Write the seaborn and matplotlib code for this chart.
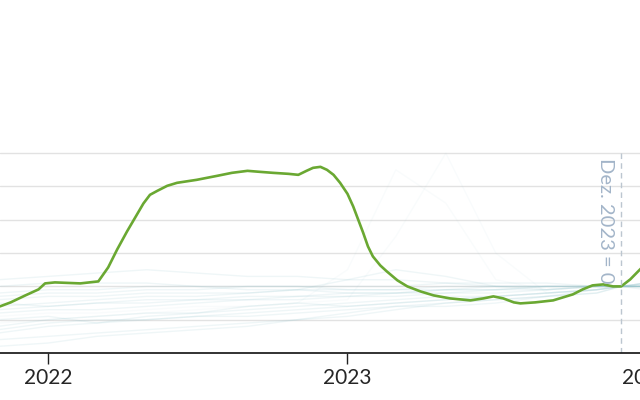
import pandas as pd
import seaborn as sns
import matplotlib.pyplot as plt
import matplotlib.dates as mdates

# main series (change in %, Dez. 2023 = 0)
main_dates = ['2021-11-03', '2021-11-16', '2021-12-04', '2021-12-20', '2021-12-28',
              '2022-01-09', '2022-02-09', '2022-03-03', '2022-03-15', '2022-03-26',
              '2022-04-07', '2022-04-17', '2022-04-27', '2022-05-05', '2022-05-14',
              '2022-05-26', '2022-06-07', '2022-07-01', '2022-07-26', '2022-08-13',
              '2022-09-01', '2022-09-16', '2022-10-02', '2022-10-21', '2022-11-02',
              '2022-11-12', '2022-11-20', '2022-11-29', '2022-12-07', '2022-12-15',
              '2022-12-23', '2023-01-01', '2023-01-08', '2023-01-14', '2023-01-20',
              '2023-01-26', '2023-02-01', '2023-02-10', '2023-02-18', '2023-03-03',
              '2023-03-15', '2023-03-31', '2023-04-16', '2023-05-06', '2023-05-31',
              '2023-06-16', '2023-06-28', '2023-07-10', '2023-07-23', '2023-07-31',
              '2023-08-18', '2023-09-09', '2023-09-21', '2023-10-03', '2023-10-15',
              '2023-10-27', '2023-11-09', '2023-11-21', '2023-12-01', '2023-12-12',
              '2023-12-24', '2024-01-05']
main_values = [-6.0, -4.8, -2.7, -0.9, 0.9,
               1.2, 0.9, 1.5, 5.7, 11.1,
               16.5, 20.7, 24.9, 27.5, 28.7,
               30.2, 31.1, 32.0, 33.2, 34.1,
               34.7, 34.4, 34.1, 33.8, 33.5,
               34.7, 35.6, 35.9, 35.0, 33.5,
               31.1, 27.8, 24.0, 20.1, 16.2,
               12.0, 9.0, 6.3, 4.5, 1.8,
               0.0, -1.5, -2.7, -3.6, -4.2,
               -3.6, -3.0, -3.6, -4.8, -5.1,
               -4.8, -4.2, -3.3, -2.4, -0.9,
               0.3, 0.6, 0.0, 0.0, 2.1,
               5.1, 8.0]

# faint comparison series
bg_dates = ['2021-11-01', '2022-01-01', '2022-03-01', '2022-05-01', '2022-07-01',
            '2022-09-01', '2022-11-01', '2023-01-01', '2023-03-01', '2023-05-01',
            '2023-07-01', '2023-09-01', '2023-11-01', '2023-12-01', '2024-01-01']
bg_series = {
    'a': [-12, -10, -9, -8, -8, -7, -6, -5, -4, -3, -3, -2, -1, 0, 1],
    'b': [-16, -15, -14, -13, -12, -11, -10, -9, -7, -5, -4, -3, -1, 0, 0],
    'c': [-8, -7, -7, -6, -5, -4, -4, -3, -3, -2, -2, -1, 0, 0, 0],
    'd': [-4, -3, -3, -2, -2, -2, -1, -1, -1, -1, 0, 0, 0, 0, 1],
    'e': [-18, -17, -15, -14, -13, -12, -10, -8, -6, -5, -4, -3, -2, 0, -1],
    'f': [-10, -9, -11, -9, -8, -6, -5, -6, -5, -4, -3, -2, -1, 0, 0],
    'g': [2, 3, 4, 5, 4, 3, 3, 2, 2, 1, 1, 1, 0, 0, 0],
    'h': [-6, -5, -4, -3, -3, -2, -1, 2, 5, 3, 0, -1, 0, 0, 1],
    'i': [-14, -12, -11, -10, -9, -9, -8, -7, -6, -6, -5, -3, -2, 0, 0],
    'j': [-2, -1, -1, 0, 0, -1, -1, -2, -2, -1, -1, 0, 0, 0, 0],
    'k': [-9, -8, -8, -7, -6, -6, -5, -4, 15, 40, 10, -2, -1, 0, 0],
    'l': [-11, -10, -9, -8, -7, -6, -5, 5, 35, 25, 2, -1, 0, 0, 1],
    'm': [-5, -6, -5, -4, -4, -3, -3, -2, -2, -1, -1, 0, 0, 0, 0],
    'n': [-13, -11, -10, -10, -9, -8, -7, -6, -5, -4, -3, -2, -1, 0, 1],
    'o': [-3, -2, -2, -1, -1, 0, 0, -1, -1, 0, 0, 0, 0, 0, 0],
    'p': [-7, -6, -5, -5, -4, -4, -3, -3, -2, -2, -1, -1, 0, 0, 0],
    'q': [0, 1, 1, 1, 0, 0, 0, 0, 0, 1, 0, 0, 0, 0, 0],
}
bg_alpha = {'k': 0.05, 'l': 0.05}

sns.set_style('white')
plt.rcParams['font.family'] = ['Lato', 'DejaVu Sans']

fig = plt.figure(figsize=(6.4, 4), dpi=100)
# axes runs a bit past the right edge, so the 2024 label is cut like the original
ax = fig.add_axes([0, 0.1175, 1.0116, 0.8825])

for name, vals in bg_series.items():
    sns.lineplot(x=pd.to_datetime(bg_dates), y=vals, ax=ax,
                 color='#8fc3cc', alpha=bg_alpha.get(name, 0.14), linewidth=1.0)

sns.lineplot(x=pd.to_datetime(main_dates), y=main_values, ax=ax,
             color='#6aa832', linewidth=1.9)

dez = pd.Timestamp('2023-12-01')
ax.vlines(dez, -20, 40, colors='#bcc6d0', linestyles=(0, (4, 3)), linewidth=1)
ax.text(dez - pd.Timedelta(days=19), 38.5, 'Dez. 2023 = 0', rotation=270,
        ha='center', va='top', color='#a3b5c9', fontsize=14.5)

ax.set_yticks([-10, 0, 10, 20, 30, 40])
ax.set_yticklabels([])
ax.yaxis.grid(True, color='#e2e2e2', linewidth=1)
ax.tick_params(axis='y', length=0)

ax.set_xticks(pd.to_datetime(['2022-01-01', '2023-01-01', '2024-01-01']))
ax.xaxis.set_major_formatter(mdates.DateFormatter('%Y'))
ax.tick_params(axis='x', direction='out', length=8, width=1, color='#222222',
               labelsize=15, pad=3, bottom=True)

ax.set_xlim(pd.Timestamp('2021-11-03'), pd.Timestamp('2024-01-02'))
ax.set_ylim(-20, 86)

for side in ['top', 'right', 'left']:
    ax.spines[side].set_visible(False)
ax.spines['bottom'].set_color('#222222')
ax.spines['bottom'].set_linewidth(1.3)
ax.set_xlabel('')
ax.set_ylabel('')

fig.savefig('out.png', dpi=100)
